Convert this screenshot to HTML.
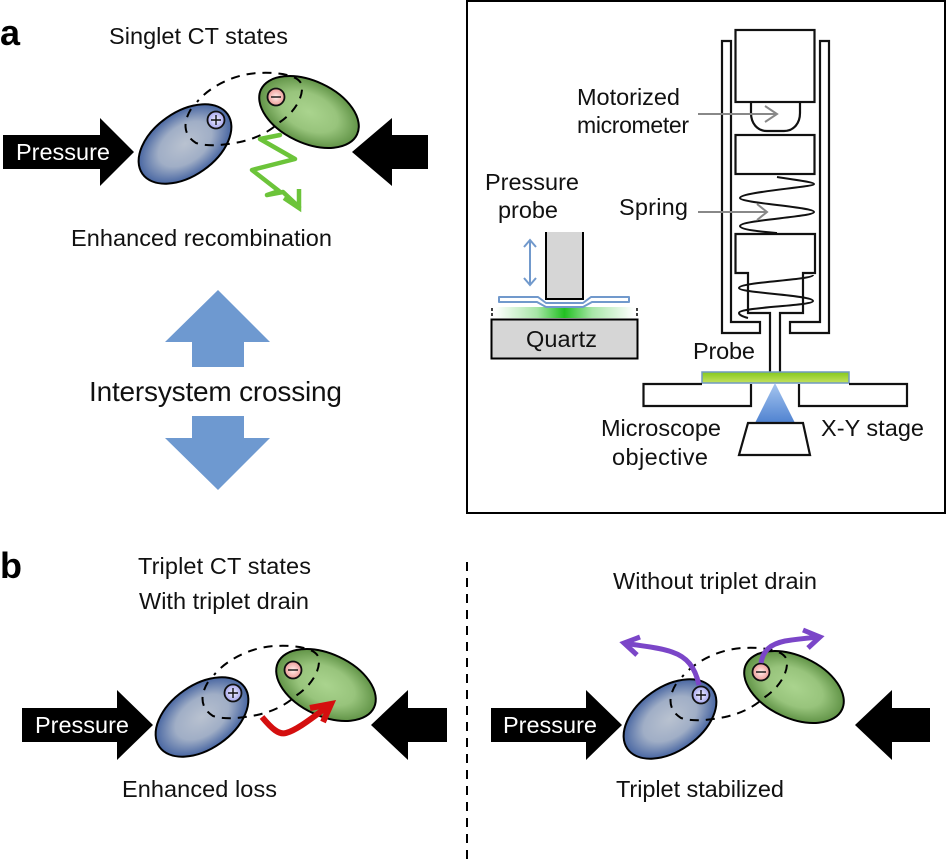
<!DOCTYPE html>
<html>
<head>
<meta charset="utf-8">
<style>
html,body{margin:0;padding:0;background:#fff;}
svg{display:block;}
text{font-family:"Liberation Sans",sans-serif;fill:#111;}
</style>
</head>
<body>
<svg width="946" height="862" viewBox="0 0 946 862" xmlns="http://www.w3.org/2000/svg">
<defs>
<radialGradient id="bl" cx="50%" cy="50%" r="52%"><stop offset="0" stop-color="#b9c2d0"/><stop offset=".55" stop-color="#a0aec6"/><stop offset="1" stop-color="#41609f"/></radialGradient>
<radialGradient id="gr" cx="50%" cy="50%" r="52%"><stop offset="0" stop-color="#aad48e"/><stop offset=".55" stop-color="#98c47c"/><stop offset="1" stop-color="#5c8f42"/></radialGradient>
<radialGradient id="pl"><stop offset="0" stop-color="#f2f2ff"/><stop offset="1" stop-color="#a6a6ee"/></radialGradient>
<radialGradient id="mi"><stop offset="0" stop-color="#fff0ec"/><stop offset="1" stop-color="#ee9c98"/></radialGradient>
<linearGradient id="pb" x1="0" y1="0" x2="0" y2="1"><stop offset="0" stop-color="#84c81e"/><stop offset="1" stop-color="#c4e25e"/></linearGradient>
<linearGradient id="cone" x1="0" y1="0" x2="0" y2="1"><stop offset="0" stop-color="#a6c6f0"/><stop offset="1" stop-color="#4f82d0"/></linearGradient>
<linearGradient id="glow" x1="0" y1="0" x2="1" y2="0"><stop offset="0" stop-color="#ffffff"/><stop offset=".3" stop-color="#a8e6a8"/><stop offset=".5" stop-color="#22c022"/><stop offset=".7" stop-color="#a8e6a8"/><stop offset="1" stop-color="#ffffff"/></linearGradient>
<g id="pair">
<ellipse cx="185" cy="144" rx="52" ry="32" transform="rotate(-35 185 144)" fill="url(#bl)" stroke="#000" stroke-width="2"/>
<ellipse cx="309" cy="112" rx="53" ry="31" transform="rotate(25 309 112)" fill="url(#gr)" stroke="#000" stroke-width="2"/>
<path d="M191 109C183 122 183 135 196 143C208 147 225 145 240 142C258 138 270 131 280 122C292 114 303 100 302 86C300 74 275 72 258 73C235 74 210 86 197 102" fill="none" stroke="#000" stroke-width="2" stroke-dasharray="9 7"/>
<circle cx="216" cy="120" r="8.500" fill="url(#pl)" stroke="#111" stroke-width="1.800"/>
<path d="M211 120H221M216 115V125" stroke="#111" stroke-width="1.400"/>
<circle cx="276" cy="97" r="8.500" fill="url(#mi)" stroke="#111" stroke-width="1.800"/>
<path d="M271 97H281" stroke="#111" stroke-width="1.400"/>
</g>
</defs>

<!-- panel a -->
<text x="0" y="45" font-size="36" font-weight="bold" style="fill:#000">a</text>
<text x="109" y="44" font-size="23.500" textLength="179">Singlet CT states</text>
<use href="#pair"/>
<path d="M3 135H100V118L134 152L100 186V169H3Z" fill="#000"/>
<text x="16" y="160" font-size="23.500" textLength="94" style="fill:#fff">Pressure</text>
<path d="M428 135H392V118L352 152L392 186V169H428Z" fill="#000"/>
<path d="M280 135L260 139L295 159L252 170L279 191L267 195L283 192L299 207" fill="none" stroke="#6cc43a" stroke-width="4.500" stroke-linejoin="round" stroke-linecap="round"/>
<path d="M284 198L299 208L299 189" fill="none" stroke="#6cc43a" stroke-width="4.500"/>
<text x="71" y="246" font-size="23.500" textLength="261">Enhanced recombination</text>
<path d="M218 290L270 342H244V367H192V342H165Z" fill="#6e99d0"/>
<path d="M192 416H244V438H270L218 490L165 438H192Z" fill="#6e99d0"/>
<text x="89" y="401" font-size="28" textLength="253">Intersystem crossing</text>

<!-- box -->
<rect x="467" y="1" width="478" height="512" fill="none" stroke="#000" stroke-width="2"/>

<!-- pressure probe -->
<text x="485" y="190" font-size="23.500" textLength="94">Pressure</text>
<text x="498" y="218" font-size="23.500" textLength="60">probe</text>
<path d="M546 232V299H583V232" fill="#d6d6d6" stroke="#000" stroke-width="2"/>
<path d="M530 241V285M524 247L530 240L536 247M524 278L530 285L536 278" fill="none" stroke="#7199cc" stroke-width="2"/>
<rect x="495" y="307" width="139" height="11" fill="url(#glow)"/>
<path d="M499 297H538L546 303H583L591 297H629V302H592L583 307H546L537 302H499Z" fill="#fff" stroke="#7199cc" stroke-width="2" stroke-linejoin="round"/>
<rect x="491.500" y="319.500" width="146" height="39" fill="#d6d6d6" stroke="#000" stroke-width="2"/>
<path d="M492 308V318M637 308V318" stroke="#000" stroke-width="1.500" stroke-dasharray="3 2"/>
<text x="526" y="347" font-size="23.500" textLength="71">Quartz</text>

<!-- instrument -->
<g fill="none" stroke="#111" stroke-width="2.200">
<path d="M722 41H731V322H760V333H722Z"/>
<path d="M829 41H820V322H790V333H829Z"/>
<rect x="735.500" y="30" width="79" height="72"/>
<path d="M751 102V113C751 123 757 131 767 131H784C794 131 800 123 800 113V102"/>
<rect x="735.500" y="135" width="79" height="39"/>
<path d="M770 372V313H748V273H735.500V234H815V273H803V313H780V372"/>
<path d="M777 177C795 180 814 182 814 184C814 187 740 192 740 198C740 203 814 207 814 212C814 217 740 220 740 226C740 230 765 232 777 233" stroke-width="2"/>
<path d="M813 275C813 280 739 282 739 288C739 293 813 295 813 301C813 306 739 307 739 313C739 315 744 317 748 318" stroke-width="2"/>
</g>
<path d="M698 114H777M765 106L777 114L765 122" fill="none" stroke="#888" stroke-width="2"/>
<path d="M698 212H767M757 204L767 212L757 220" fill="none" stroke="#888" stroke-width="2"/>
<text x="577" y="105" font-size="23.500" textLength="103">Motorized</text>
<text x="577" y="133" font-size="23" textLength="112">micrometer</text>
<text x="619" y="215" font-size="23.500" textLength="69">Spring</text>
<text x="693" y="359" font-size="23.500" textLength="62">Probe</text>
<rect x="702" y="372" width="147" height="11" fill="url(#pb)" stroke="#7199c0" stroke-width="1.500"/>
<path d="M702 384H643.500V406H751V384M849 384H907V406H799V384" fill="none" stroke="#111" stroke-width="2.200"/>
<path d="M775 383L795 423H755Z" fill="url(#cone)"/>
<path d="M748 423H803L810 455H739Z" fill="#fff" stroke="#111" stroke-width="2.200"/>
<text x="601" y="436" font-size="23.500" textLength="120">Microscope</text>
<text x="612" y="465" font-size="23.500" textLength="96">objective</text>
<text x="821" y="436" font-size="23.500" textLength="103">X-Y stage</text>

<!-- panel b -->
<text x="0" y="578" font-size="36" font-weight="bold" style="fill:#000">b</text>
<text x="138" y="574" font-size="23.500" textLength="173">Triplet CT states</text>
<text x="139" y="609" font-size="23.500" textLength="170">With triplet drain</text>
<use href="#pair" transform="translate(17 573)"/>
<path d="M22 708H117V690L153 725L117 760V742H22Z" fill="#000"/>
<text x="35" y="733" font-size="23.500" textLength="94" style="fill:#fff">Pressure</text>
<path d="M447 708H408V690L371 725L408 760V742H447Z" fill="#000"/>
<path d="M262 717C272 729 279 735 286 733C297 730 312 718 327 707" fill="none" stroke="#d40f0f" stroke-width="6"/>
<path d="M310 708L331 704L323 722" fill="none" stroke="#d40f0f" stroke-width="6"/>
<text x="122" y="797" font-size="23.500" textLength="155">Enhanced loss</text>

<path d="M467 562V862" stroke="#000" stroke-width="2" stroke-dasharray="9 7"/>

<text x="613" y="589" font-size="23.500" textLength="204">Without triplet drain</text>
<use href="#pair" transform="translate(485 575)"/>
<path d="M699 685C695 667 687 657 672 652C658 647 640 646 624 643" fill="none" stroke="#7b46c8" stroke-width="5"/>
<path d="M640 637L624 643L637 655" fill="none" stroke="#7b46c8" stroke-width="5"/>
<path d="M761 663C763 650 771 644 785 641C797 639 808 638 820 637" fill="none" stroke="#7b46c8" stroke-width="5"/>
<path d="M803 630L820 637L808 648" fill="none" stroke="#7b46c8" stroke-width="5"/>
<path d="M491 708H586V690L622 725L586 760V742H491Z" fill="#000"/>
<text x="503" y="733" font-size="23.500" textLength="94" style="fill:#fff">Pressure</text>
<path d="M930 708H892V690L855 725L892 760V742H930Z" fill="#000"/>
<text x="616" y="797" font-size="23.500" textLength="168">Triplet stabilized</text>
</svg>
</body>
</html>
